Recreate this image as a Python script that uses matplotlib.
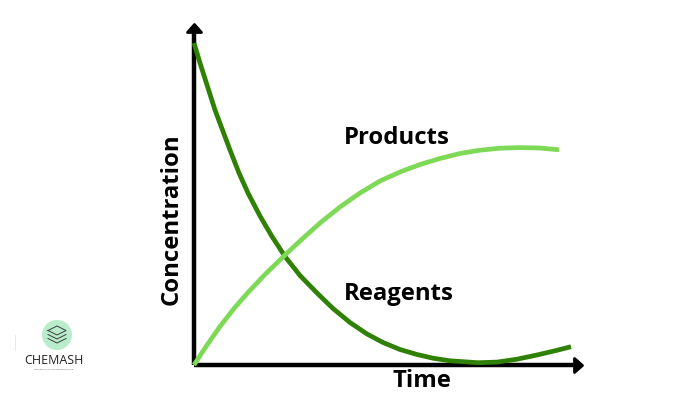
#!/usr/bin/env python3
# Reaction progress sketch: reagents falling, products rising
import matplotlib
matplotlib.use('Agg')
import matplotlib.pyplot as plt
from matplotlib.markers import MarkerStyle
from matplotlib.patches import Circle
from matplotlib.transforms import Affine2D

W, H = 700, 400

# curves (time, concentration)
reagent_t = [0, 6, 21, 36, 45, 54, 66, 78, 91, 106, 123, 139, 156, 173, 189, 206,
             223, 239, 256, 284, 303, 323, 343, 363, 377]
reagent_c = [322, 302, 255, 215, 192, 172, 149, 128.5, 108.5, 89.5, 72, 56.5, 42.5, 31,
             22.5, 15.5, 10.5, 6.8, 4.2, 2.3, 2.9, 5.8, 10, 14.7, 18.3]
product_t = [0, 13, 26, 40, 54, 71, 91, 106, 126, 146, 166, 186, 206, 226, 246,
             266, 286, 306, 326, 346, 365]
product_c = [0, 20, 38.5, 56.5, 72.5, 90.5, 110, 124, 142, 158, 172, 184, 193, 200.5,
             206.5, 211.5, 214.8, 216.8, 217.4, 217, 215.2]

DARK = '#2e8104'
LIGHT = '#7ed957'

fig = plt.figure(figsize=(W / 100, H / 100), dpi=100)
fig.patch.set_facecolor('white')
ax = fig.add_axes([194 / W, 1 - 365 / H, 383.5 / W, 337 / H])
ax.set_xlim(0, 383.5)
ax.set_ylim(0, 337)
ax.set_facecolor('none')
for side in ('top', 'right'):
    ax.spines[side].set_visible(False)
for side in ('left', 'bottom'):
    ax.spines[side].set_linewidth(3.2)
    ax.spines[side].set_color('black')
    ax.spines[side].set_capstyle('butt')
ax.set_xticks([])
ax.set_yticks([])

# arrow heads at the axis ends
head_x = MarkerStyle('>', joinstyle='round', transform=Affine2D().scale(0.65, 1))
head_y = MarkerStyle('^', joinstyle='round', transform=Affine2D().scale(1, 0.65))
ax.plot(1, 0, transform=ax.transAxes, clip_on=False, color='black', ms=9.5, mew=2,
        marker=head_x, zorder=5)
ax.plot(0, 1, transform=ax.transAxes, clip_on=False, color='black', ms=9.5, mew=2,
        marker=head_y, zorder=5)

ax.plot(reagent_t, reagent_c, color=DARK, lw=3.4, solid_capstyle='butt',
        solid_joinstyle='round', clip_on=False, zorder=6)
ax.plot(product_t, product_c, color=LIGHT, lw=3.4, solid_capstyle='butt',
        solid_joinstyle='round', clip_on=False, zorder=7)

FONT = 'Open Sans'
SIZE = 17.2
fig.text(344 / W, 1 - 138 / H, 'Products', family=FONT, weight='bold', fontsize=SIZE,
         va='center', ha='left', color='black')
fig.text(344 / W, 1 - 294 / H, 'Reagents', family=FONT, weight='bold', fontsize=SIZE,
         va='center', ha='left', color='black')
fig.text(422 / W, 1 - 381 / H, 'Time', family=FONT, weight='bold', fontsize=SIZE,
         va='center', ha='center', color='black')
fig.text(172 / W, 1 - 219 / H, 'Concentration', family=FONT, weight='bold', fontsize=SIZE,
         va='center', ha='center', rotation=90, color='black')

# logo, bottom left, drawn on a pixel overlay
logo = fig.add_axes([0, 0, 1, 1])
logo.set_xlim(0, W)
logo.set_ylim(H, 0)
logo.axis('off')
logo.add_patch(Circle((57, 335), 15, color='#b8eccb', lw=0))
logo.plot([48, 57, 66, 57, 48], [330.5, 326, 330.5, 335, 330.5], color='#3d3d3d', lw=0.7)
for dy in (4, 8):
    logo.plot([48, 57, 66], [330.5 + dy, 335 + dy, 330.5 + dy], color='#3d3d3d', lw=0.7)
logo.plot([14.5, 14.5], [335, 350], color='#e4e4e4', lw=0.6)
logo.text(54, 360, 'CHEMASH', family='Open Sans', fontsize=9, ha='center', va='center',
          color='#222222')
logo.text(54, 369, 'Leading Chemistry for a Better Tomorrow', family='Open Sans', fontsize=1.45,
          ha='center', va='center', color='#444444')

fig.savefig('out.png', dpi=100)
